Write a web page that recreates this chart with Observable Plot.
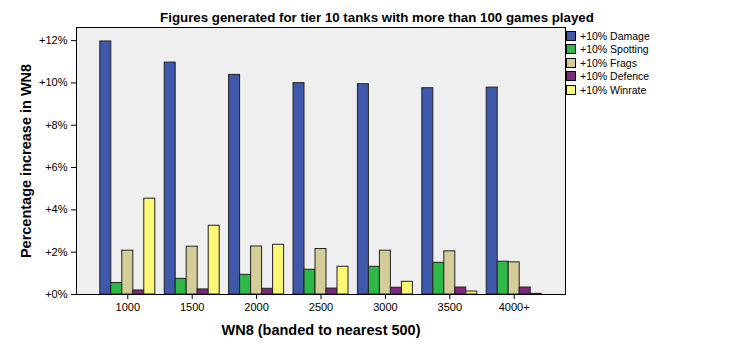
<!DOCTYPE html>
<html><head><meta charset="utf-8">
<script src="https://cdn.jsdelivr.net/npm/d3@7"></script>
<script src="https://cdn.jsdelivr.net/npm/@observablehq/plot@0.6"></script>
<style>
body{margin:0;background:#fff;font-family:"Liberation Sans",Arial,sans-serif;}
#wrap{position:relative;width:754px;height:352px;}
#title{position:absolute;left:0;width:754px;top:10px;text-align:center;font-weight:bold;font-size:13.3px;line-height:15px;}
#legend{position:absolute;left:566px;top:29px;font-size:10.5px;}
.row{display:flex;align-items:center;height:13.5px;}
.sw{width:10px;height:10px;border:1px solid #000;margin-right:4px;box-sizing:border-box;}
#chart svg [aria-label="y-axis label"] text,#chart svg [aria-label="x-axis label"] text{font-weight:bold;font-size:14.5px;}
</style></head><body>
<div id="wrap"><div id="chart"></div><div id="title"></div><div id="legend"></div></div>
<script>
const titleText = "Figures generated for tier 10 tanks with more than 100 games played";
const categories = ["1000","1500","2000","2500","3000","3500","4000+"];
const seriesNames = ["+10% Damage","+10% Spotting","+10% Frags","+10% Defence","+10% Winrate"];
const damage   = [11.96,10.96,10.38,9.99,9.94,9.75,9.78];
const spotting = [0.54,0.74,0.93,1.17,1.31,1.50,1.55];
const frags    = [2.07,2.26,2.27,2.15,2.07,2.04,1.52];
const defence  = [0.19,0.24,0.27,0.28,0.32,0.33,0.33];
const winrate  = [4.53,3.25,2.35,1.31,0.60,0.14,0.03];
const colors = ["#3E58AC","#2EB848","#D3CE97","#7C287D","#FBF873"];
const yTicks = [0,2,4,6,8,10,12];

// layout in category units: each category occupies one unit; a group of bars fills part of it
const groupWidth = 0.854;
const outerPad = 0.7965;
const seriesValues = [damage, spotting, frags, defence, winrate];
const barW = groupWidth / seriesNames.length;
const data = [];
categories.forEach((c, i) => seriesNames.forEach((s, j) => {
  const x1 = i - groupWidth / 2 + j * barW;
  data.push({category: c, series: s, value: seriesValues[j][i], x1, x2: x1 + barW});
}));

const plot = Plot.plot({
  width: 754, height: 352,
  marginTop: 27, marginBottom: 58, marginLeft: 76, marginRight: 189,
  style: {fontFamily: "Liberation Sans, Arial, sans-serif", fontSize: "11px", color: "#000", background: "transparent"},
  x: {domain: [-outerPad, categories.length - 1 + outerPad], ticks: d3.range(categories.length), tickFormat: i => categories[i], label: "WN8 (banded to nearest 500)", labelAnchor: "center", labelArrow: "none", labelOffset: 40, tickSize: 5},
  y: {domain: [0, 12.62], ticks: yTicks, tickFormat: d => "+" + d + "%", label: "Percentage increase in WN8", labelAnchor: "center", labelArrow: "none", labelOffset: 56, tickSize: 5},
  color: {domain: seriesNames, range: colors},
  marks: [
    Plot.frame({fill: "#EFEFEF"}),
    Plot.rectY(data, {x1: "x1", x2: "x2", y: "value", fill: "series", stroke: "#222", strokeWidth: 1}),
    Plot.frame({stroke: "#000"})
  ]
});
document.getElementById("chart").appendChild(plot);
document.getElementById("title").textContent = titleText;
const legend = document.getElementById("legend");
seriesNames.forEach((s, j) => {
  const row = document.createElement("div"); row.className = "row";
  const sw = document.createElement("div"); sw.className = "sw"; sw.style.background = colors[j];
  const t = document.createElement("span"); t.textContent = s;
  row.appendChild(sw); row.appendChild(t); legend.appendChild(row);
});
</script>
</body></html>
